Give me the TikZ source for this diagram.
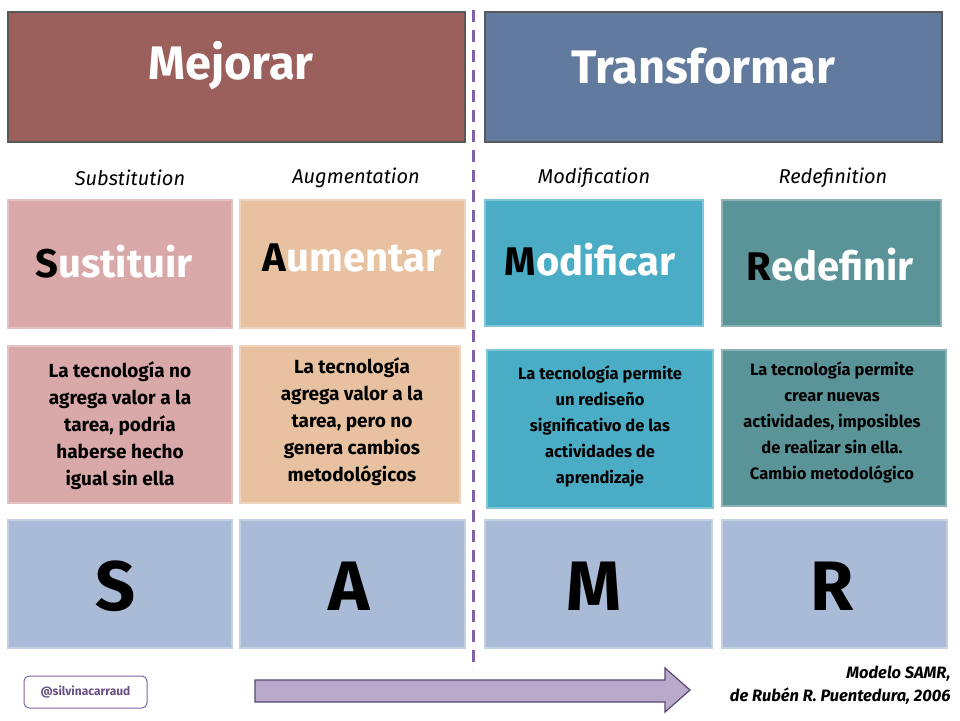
\documentclass[tikz,border=0pt]{standalone}
\usepackage{fontspec}
\setmainfont{Fira Sans}
\definecolor{cmej}{HTML}{9B5F5C}
\definecolor{ctra}{HTML}{627A9E}
\definecolor{cs}{HTML}{D9A8A8}
\definecolor{ca}{HTML}{E8C2A0}
\definecolor{cm}{HTML}{4BACC6}
\definecolor{cr}{HTML}{5B9498}
\definecolor{cb}{HTML}{A9BBD6}
\definecolor{cp}{HTML}{8064A2}
\begin{document}
\begin{tikzpicture}[x=1pt,y=-1pt,
 bx/.style={draw=#1!70!white,line width=1.5pt,fill=#1},
 lab/.style={font=\itshape\fontsize{20}{20}\selectfont},
 body/.style={align=center,font=\bfseries\fontsize{19}{27}\selectfont},
 big/.style={font=\bfseries\fontsize{47}{47}\selectfont,text=white},
 nm/.style={font=\bfseries\fontsize{40}{40}\selectfont,text=white},
 letter/.style={font=\bfseries\fontsize{70}{70}\selectfont}]
\useasboundingbox[fill=white] (0,0) rectangle (960,720);
\draw[bx=cmej,draw=gray!70!black] (8,12) rectangle (465,142);
\node[big] (mej) at (231,66) {Mejorar};
\draw[bx=ctra,draw=gray!70!black] (485,12) rectangle (942,142);
\node[big] (tra) at (703,66) {Transformar};
\node[lab] (l1) at (130,178) {Substitution};
\node[lab] (l2) at (356,178) {Augmentation};
\node[lab] (l3) at (594,178) {Modification};
\node[lab] (l4) at (833,178) {Redefinition};
\draw[bx=cs] (8,200) rectangle (232,328);
\draw[bx=ca] (240,200) rectangle (465,328);
\draw[bx=cm] (485,200) rectangle (703,326);
\draw[bx=cr] (722,200) rectangle (941,326);
\node[nm] (n1) at (114,262) {\textcolor{black}{S}ustituir};
\node[nm] (n2) at (352,258) {\textcolor{black}{A}umentar};
\node[nm] (n3) at (590,260) {\textcolor{black}{M}odificar};
\node[nm] (n4) at (830,265) {\textcolor{black}{R}edefinir};
\draw[bx=cs] (8,346) rectangle (232,503);
\draw[bx=ca] (240,346) rectangle (460,503);
\draw[bx=cm] (487,350) rectangle (713,508);
\draw[bx=cr] (722,350) rectangle (946,506);
\node[body] (d1) at (120,426) {La tecnología no\\agrega valor a la\\tarea, podría\\haberse hecho\\igual sin ella};
\node[body] (d2) at (352,422) {La tecnología\\agrega valor a la\\tarea, pero no\\genera cambios\\metodológicos};
\node[body,font=\bfseries\fontsize{16.5}{26}\selectfont] (d3) at (600,426) {La tecnología permite\\un rediseño\\significativo de las\\actividades de\\aprendizaje};
\node[body,font=\bfseries\fontsize{16.5}{26}\selectfont] (d4) at (832,422) {La tecnología permite\\crear nuevas\\actividades, imposibles\\de realizar sin ella.\\Cambio metodológico};
\draw[bx=cb] (8,520) rectangle (232,648);
\draw[bx=cb] (240,520) rectangle (465,648);
\draw[bx=cb] (485,520) rectangle (712,648);
\draw[bx=cb] (722,520) rectangle (947,648);
\node[letter] (s) at (116,586) {S};
\node[letter] (a) at (349,586) {A};
\node[letter] (m) at (594,586) {M};
\node[letter] (r) at (832,586) {R};
\draw[cp,line width=3pt,dash pattern=on 12pt off 8pt] (473,10) -- (473,670);
\node[draw=cp,line width=1pt,rounded corners=5pt,minimum width=123pt,minimum height=32pt,font=\bfseries\fontsize{12}{12}\selectfont,text=cp!80!black] (tag) at (85.5,692) {@silvinacarraud};
\draw[draw=cp!70!black,fill=cp!55!white,line width=1.2pt] (255,680) -- (665,680) -- (665,668) -- (690,690) -- (665,712) -- (665,702) -- (255,702) -- cycle;
\node[align=right,anchor=north east,font=\bfseries\itshape\fontsize{16.5}{23}\selectfont] (cred) at (954,662) {Modelo SAMR,\\de Rubén R. Puentedura, 2006};
\end{tikzpicture}
\end{document}
